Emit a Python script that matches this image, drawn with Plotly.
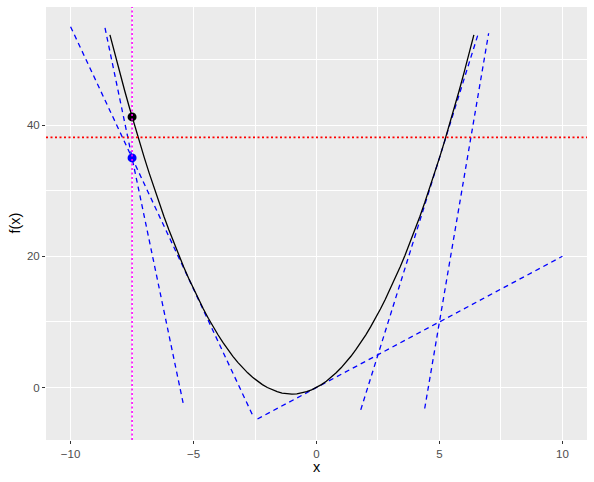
import plotly.graph_objects as go

curve_x = [-8.4, -8.2, -8.0, -7.8, -7.6, -7.4, -7.2, -7.0, -6.8, -6.6, -6.4, -6.2, -6.0,
           -5.8, -5.6, -5.4, -5.2, -5.0, -4.8, -4.6, -4.4, -4.2, -4.0, -3.8, -3.6, -3.4,
           -3.2, -3.0, -2.8, -2.6, -2.4, -2.2, -2.0, -1.8, -1.6, -1.4, -1.2, -1.0, -0.8,
           -0.6, -0.4, -0.2, 0.0, 0.2, 0.4, 0.6, 0.8, 1.0, 1.2, 1.4, 1.6, 1.8, 2.0, 2.2,
           2.4, 2.6, 2.8, 3.0, 3.2, 3.4, 3.6, 3.8, 4.0, 4.2, 4.4, 4.6, 4.8, 5.0, 5.2, 5.4,
           5.6, 5.8, 6.0, 6.2, 6.4]
curve_y = [53.76, 50.84, 48.0, 45.24, 42.56, 39.96, 37.44, 35.0, 32.64, 30.36, 28.16, 26.04, 24.0,
           22.04, 20.16, 18.36, 16.64, 15.0, 13.44, 11.96, 10.56, 9.24, 8.0, 6.84, 5.76, 4.76,
           3.84, 3.0, 2.24, 1.56, 0.96, 0.44, 0.0, -0.36, -0.64, -0.84, -0.96, -1.0, -0.96,
           -0.84, -0.64, -0.36, 0.0, 0.44, 0.96, 1.56, 2.24, 3.0, 3.84, 4.76, 5.76, 6.84, 8.0, 9.24,
           10.56, 11.96, 13.44, 15.0, 16.64, 18.36, 20.16, 22.04, 24.0, 26.04, 28.16, 30.36, 32.64, 35.0, 37.44, 39.96,
           42.56, 45.24, 48.0, 50.84, 53.76]

# Tangent line segments (start/end)
tangent_x = [[-8.6, -5.4], [-10.0, -2.6], [-2.4, 10.0], [1.8, 6.6], [4.4, 7.0]]
tangent_y = [[54.8, -2.8], [55.0, -4.2], [-4.8, 20.0], [-3.4, 54.2], [-3.2, 54.0]]

# Points
point_black = (-7.5, 41.25)
point_blue = (-7.5, 35.0)
hline_y = 38.125
vline_x = -7.5

x_title = "x"
y_title = "f(x)"

FONT = "Liberation Sans, Arial, sans-serif"

fig = go.Figure()

for tx, ty in zip(tangent_x, tangent_y):
    fig.add_trace(go.Scatter(x=tx, y=ty, mode="lines",
                             line=dict(color="blue", width=1.3, dash="5px,4px"),
                             showlegend=False, hoverinfo="skip"))

fig.add_trace(go.Scatter(x=curve_x, y=curve_y, mode="lines",
                         line=dict(color="black", width=1.3), showlegend=False))

fig.add_hline(y=hline_y, line=dict(color="#FF0000", width=1.6, dash="2px,2.5px"))
fig.add_vline(x=vline_x, line=dict(color="#FF00FF", width=1.6, dash="2px,2.5px"))

fig.add_trace(go.Scatter(x=[point_black[0]], y=[point_black[1]], mode="markers",
                         marker=dict(color="black", size=9), showlegend=False))
fig.add_trace(go.Scatter(x=[point_blue[0]], y=[point_blue[1]], mode="markers",
                         marker=dict(color="blue", size=9), showlegend=False))

axis_common = dict(
    showgrid=True, gridcolor="white", gridwidth=1.3,
    zeroline=False, showline=False, automargin=False,
    ticks="outside", ticklen=3, tickwidth=1.1, tickcolor="#333333",
    tickfont=dict(family=FONT, size=11.5, color="#4D4D4D"),
)

fig.update_xaxes(range=[-11, 11], tick0=-10, dtick=5,
                 minor=dict(dtick=2.5, tick0=-10, showgrid=True, gridcolor="white", gridwidth=0.6, ticks=""),
                 **axis_common)
fig.update_yaxes(range=[-8, 58], tick0=0, dtick=20,
                 minor=dict(dtick=10, tick0=0, showgrid=True, gridcolor="white", gridwidth=0.6, ticks=""),
                 **axis_common)

L, R, T, B = 46, 7, 7, 42
W, H = 594, 482
fig.update_layout(
    width=W, height=H,
    margin=dict(l=L, r=R, t=T, b=B, autoexpand=False),
    plot_bgcolor="#EBEBEB", paper_bgcolor="white",
    showlegend=False,
)
plot_h = H - T - B
plot_w = W - L - R
fig.add_annotation(x=0.5, xref="paper", y=-(467 - (H - B)) / plot_h, yref="paper",
                   xanchor="center", yanchor="middle",
                   text=x_title, showarrow=False, font=dict(family=FONT, size=14.5, color="black"))
fig.add_annotation(x=-(L - 14) / plot_w, xref="paper", y=0.5, yref="paper",
                   xanchor="center", yanchor="middle", textangle=-90,
                   text=y_title, showarrow=False, font=dict(family=FONT, size=14.5, color="black"))

fig.write_html("out.html", config={"displayModeBar": False},
               post_script="document.body.style.margin='0';document.body.style.padding='0';")
